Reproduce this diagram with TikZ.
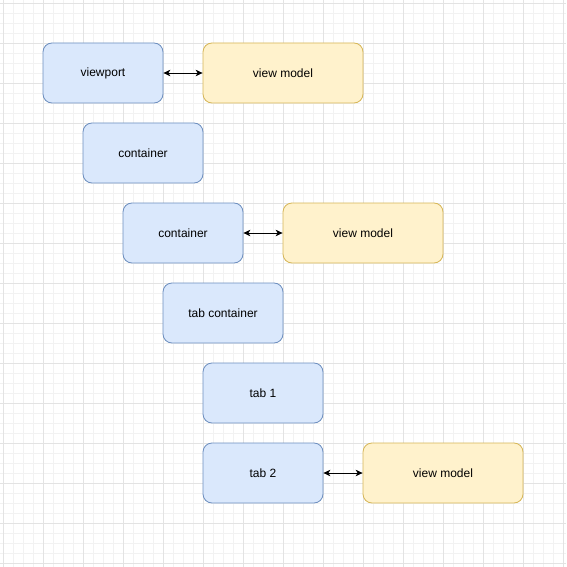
\documentclass[tikz,border=0pt]{standalone}
\usepackage{fontspec}
\setmainfont{Liberation Sans}
\usepackage{xcolor}
\usetikzlibrary{positioning,arrows.meta}

\definecolor{bluefill}{HTML}{DAE8FC}
\definecolor{bluedraw}{HTML}{6C8EBF}
\definecolor{yellowfill}{HTML}{FFF2CC}
\definecolor{yellowdraw}{HTML}{D6B656}
\definecolor{gridminor}{HTML}{F2F2F2}
\definecolor{gridmajor}{HTML}{E3E3E3}

\tikzset{
  part/.style={draw=bluedraw, fill=bluefill, line width=0.8pt, rounded corners=9pt,
    minimum width=120pt, minimum height=60pt, inner sep=0pt,
    font=\fontsize{12}{14}\selectfont},
  model/.style={part, draw=yellowdraw, fill=yellowfill, minimum width=160pt},
  link/.style={{Stealth[length=7pt,width=6.5pt,inset=2pt]}-{Stealth[length=7pt,width=6.5pt,inset=2pt]}, line width=0.9pt}
}

\begin{document}
\begin{tikzpicture}[x=1pt,y=-1pt]
  \useasboundingbox (0,0) rectangle (566,567);
  \fill[white] (0,0) rectangle (566,567);
  % grid
  \foreach \p in {3,13,...,563} {
    \draw[gridminor, line width=0.6pt] (\p,0) -- (\p,567);
    \draw[gridminor, line width=0.6pt] (0,\p) -- (566,\p);
  }
  \foreach \p in {3,43,...,563} {
    \draw[gridmajor, line width=0.6pt] (\p,0) -- (\p,567);
    \draw[gridmajor, line width=0.6pt] (0,\p) -- (566,\p);
  }

  \node[part] (viewport) at (103,73) {viewport};
  \node[model] (vm1) at (283,73) {view model};
  \node[part] (cont1) at (143,153) {container};
  \node[part] (cont2) at (183,233) {container};
  \node[model] (vm2) at (363,233) {view model};
  \node[part] (tabs) at (223,313) {tab container};
  \node[part] (tab1) at (263,393) {tab 1};
  \node[part] (tab2) at (263,473) {tab 2};
  \node[model] (vm3) at (443,473) {view model};

  \foreach \from/\to in {viewport/vm1, cont2/vm2, tab2/vm3}
    \draw[link] (\from) -- (\to);
\end{tikzpicture}
\end{document}
